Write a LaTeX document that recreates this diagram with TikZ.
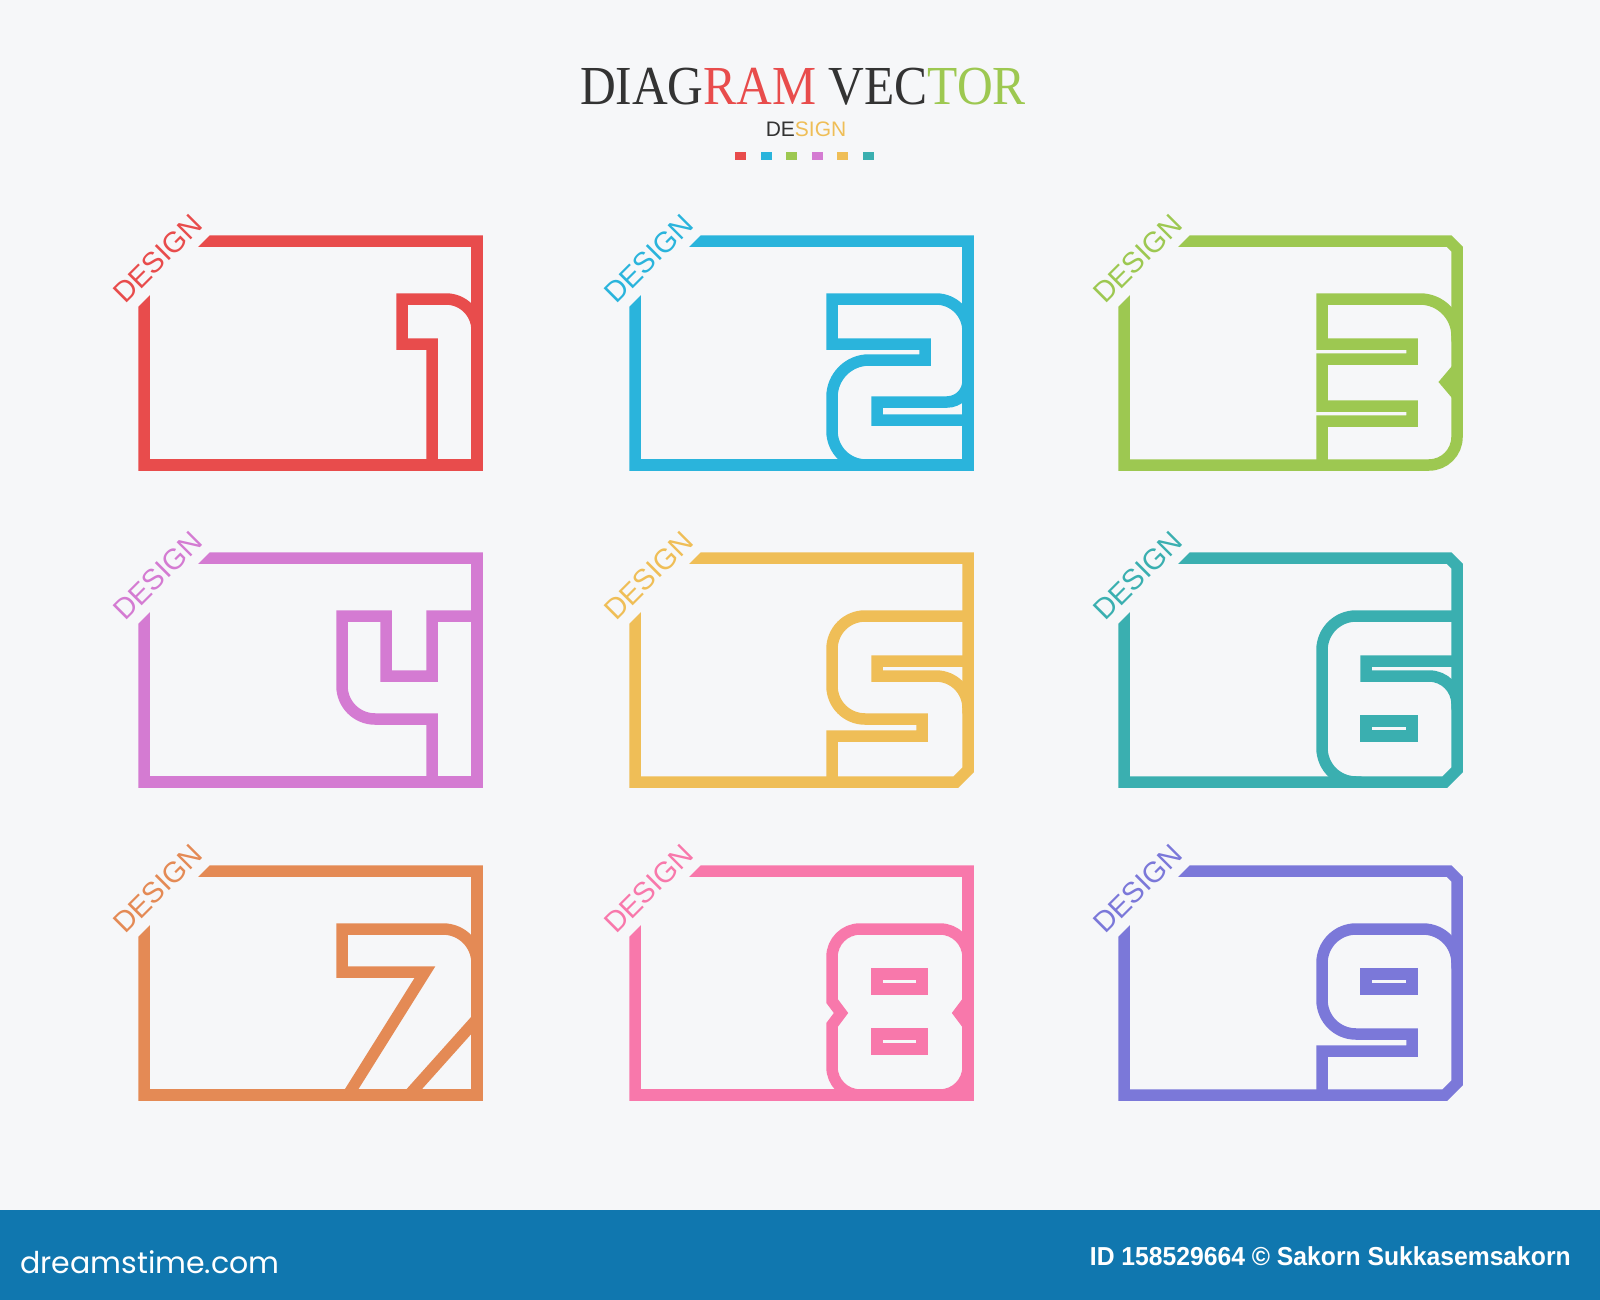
\documentclass[tikz,border=0pt]{standalone}
\usepackage{graphicx}
\usepackage{fontspec}
\setmainfont{Liberation Serif}
\setsansfont{Liberation Sans}
\newfontfamily\logofont{Poppins}

\definecolor{cred}{HTML}{E84C4C}
\definecolor{ccyan}{HTML}{2AB4DC}
\definecolor{cgreen}{HTML}{9DC851}
\definecolor{cviolet}{HTML}{D47BD2}
\definecolor{cyellow}{HTML}{EFBE57}
\definecolor{cteal}{HTML}{3AAFB0}
\definecolor{corange}{HTML}{E48A55}
\definecolor{cpink}{HTML}{F878AB}
\definecolor{cblue}{HTML}{7B78D9}
\definecolor{ctitle}{HTML}{333333}
\definecolor{cbg}{HTML}{F6F7F9}
\definecolor{cbanner}{HTML}{1077AF}

\tikzset{
  boxline/.style = {line width=11.5pt, line join=miter},
  digitline/.style = {line width=11.5pt, line join=miter, line cap=rect},
  designtag/.style = {font=\sffamily\fontsize{29}{29}\selectfont, rotate=45, inner sep=0pt}
}
% Rahmen ohne Ecke oben links
\newcommand{\boxclip}{\clip (-5.75,65.75) -- (-5.75,229.75) -- (338.75,229.75) -- (338.75,-5.75) -- (65.75,-5.75) -- cycle;}

\begin{document}
\begin{tikzpicture}[x=1pt, y=-1pt]
  \useasboundingbox (0,0) rectangle (1600,1300);
  \fill[cbg] (0,0) rectangle (1600,1300);

  % Titel
  \node[anchor=base, font=\fontsize{55}{60}\selectfont, inner sep=0pt] (title) at (803,105)
    {\scalebox{0.9}[1]{\textcolor{ctitle}{DIAG}\textcolor{cred}{RAM} \textcolor{ctitle}{VEC}\textcolor{cgreen}{TOR}}};
  \node[anchor=base, font=\sffamily\fontsize{21}{24}\selectfont, inner sep=0pt] (subtitle) at (806,137)
    {\textcolor{ctitle}{DE}\textcolor{cyellow}{SIGN}};
  \foreach \c [count=\i from 0] in {cred,ccyan,cgreen,cviolet,cyellow,cteal}
    \fill[\c] ({735+25.6*\i},152) rectangle +(11,8);

  % Kasten 1
  \begin{scope}[shift={(144,241)}, color=cred]
    \node[designtag] (d1) at (13.5,17.5) {DESIGN};
    \boxclip
    \draw[boxline] (0,0) rectangle (333,224);
    \draw[digitline] (333,89) arc[start angle=0, end angle=-90, radius=31] -- (258,58) -- (258,103) -- (288,103) -- (288,224);
  \end{scope}

  % Kasten 2
  \begin{scope}[shift={(635,241)}, color=ccyan]
    \node[designtag] (d2) at (13.5,17.5) {DESIGN};
    \boxclip
    \draw[boxline] (0,0) rectangle (333,224);
    \draw[digitline] (333,90) arc[start angle=0, end angle=-90, radius=32] -- (197,58) -- (197,103) -- (290,103) -- (290,119)
      -- (234,119) arc[start angle=-90, end angle=-180, radius=37] -- (197,190) arc[start angle=180, end angle=90, radius=34];
    \draw[digitline] (333,140) arc[start angle=0, end angle=90, radius=21] -- (242,161) -- (242,179) -- (333,179);
  \end{scope}

  % Kasten 3
  \begin{scope}[shift={(1124,241)}, color=cgreen]
    \node[designtag] (d3) at (13.5,17.5) {DESIGN};
    \boxclip
    \draw[boxline] (0,0) -- (325,0) -- (333,8) -- (333,196) arc[start angle=0, end angle=90, radius=28] -- (0,224) -- cycle;
    \draw[digitline] (333,95) arc[start angle=0, end angle=-90, radius=37] -- (198,58) -- (198,103) -- (288,103) -- (288,118)
      -- (198,118) -- (198,165) -- (288,165) -- (288,180) -- (198,180) -- (198,224);
    \draw[digitline] (333,128) -- (322,141) -- (333,154);
  \end{scope}

  % Kasten 4
  \begin{scope}[shift={(144,558)}, color=cviolet]
    \node[designtag] (d4) at (13.5,17.5) {DESIGN};
    \boxclip
    \draw[boxline] (0,0) rectangle (333,224);
    \draw[digitline] (333,58) -- (288,58) -- (288,118) -- (242,118) -- (242,58) -- (198,58) -- (198,128)
      arc[start angle=180, end angle=90, radius=33] -- (288,161) -- (288,224);
  \end{scope}

  % Kasten 5
  \begin{scope}[shift={(635,558)}, color=cyellow]
    \node[designtag] (d5) at (13.5,17.5) {DESIGN};
    \boxclip
    \draw[boxline] (0,0) -- (333,0) -- (333,212) -- (321,224) -- (0,224) -- cycle;
    \draw[digitline] (333,58) -- (230,58) arc[start angle=-90, end angle=-180, radius=33] -- (197,128)
      arc[start angle=180, end angle=90, radius=33] -- (287,161) -- (287,178) -- (197,178) -- (197,224);
    \draw[digitline] (333,150) arc[start angle=0, end angle=-90, radius=32] -- (242,118) -- (242,103) -- (333,103);
  \end{scope}

  % Kasten 6
  \begin{scope}[shift={(1124,558)}, color=cteal]
    \node[designtag] (d6) at (13.5,17.5) {DESIGN};
    \boxclip
    \draw[boxline] (0,0) -- (325,0) -- (333,8) -- (333,212) -- (321,224) -- (0,224) -- cycle;
    \draw[digitline] (333,58) -- (232,58) arc[start angle=-90, end angle=-180, radius=34] -- (198,190)
      arc[start angle=180, end angle=90, radius=34];
    \draw[digitline] (333,146) arc[start angle=0, end angle=-90, radius=28] -- (242,118) -- (242,103) -- (333,103);
    \draw[digitline] (242,163) rectangle (288,178);
  \end{scope}

  % Kasten 7
  \begin{scope}[shift={(144,871)}, color=corange]
    \node[designtag] (d7) at (13.5,17.5) {DESIGN};
    \boxclip
    \draw[boxline] (0,0) rectangle (333,224);
    \draw[digitline] (333,92) arc[start angle=0, end angle=-90, radius=34] -- (198,58) -- (198,101) -- (281,101) -- (204,224);
    \draw[digitline] (333,148) -- (265,224);
  \end{scope}

  % Kasten 8
  \begin{scope}[shift={(635,871)}, color=cpink]
    \node[designtag] (d8) at (13.5,17.5) {DESIGN};
    \boxclip
    \draw[boxline] (0,0) rectangle (333,224);
    \draw[digitline] (333,86) arc[start angle=0, end angle=-90, radius=28] -- (225,58) arc[start angle=-90, end angle=-180, radius=28]
      -- (197,130) -- (206,142) -- (197,154) -- (197,196) arc[start angle=180, end angle=90, radius=28];
    \draw[digitline] (333,130) -- (324,142) -- (333,154);
    \draw[digitline] (333,196) arc[start angle=0, end angle=90, radius=28];
    \draw[digitline] (242,103) rectangle (287,118);
    \draw[digitline] (242,163) rectangle (287,178);
  \end{scope}

  % Kasten 9
  \begin{scope}[shift={(1124,871)}, color=cblue]
    \node[designtag] (d9) at (13.5,17.5) {DESIGN};
    \boxclip
    \draw[boxline] (0,0) -- (325,0) -- (333,8) -- (333,212) -- (321,224) -- (0,224) -- cycle;
    \draw[digitline] (333,92) arc[start angle=0, end angle=-90, radius=34] -- (232,58) arc[start angle=-90, end angle=-180, radius=34]
      -- (198,129) arc[start angle=180, end angle=90, radius=34] -- (288,163) -- (288,180) -- (198,180) -- (198,224);
    \draw[digitline] (242,103) rectangle (288,118);
  \end{scope}

  % Fusszeile
  \fill[cbanner] (0,1210) rectangle (1600,1300);
  \node[anchor=base west, text=white, font=\logofont\fontsize{30}{34}\selectfont, inner sep=0pt] (site) at (20,1273) {dreamstime.com};
  \node[anchor=base east, text=white, font=\sffamily\bfseries\fontsize{26}{30}\selectfont, inner sep=0pt] (credit) at (1571,1265)
    {\scalebox{0.95}[1]{ID 158529664 © Sakorn Sukkasemsakorn}};
\end{tikzpicture}
\end{document}
